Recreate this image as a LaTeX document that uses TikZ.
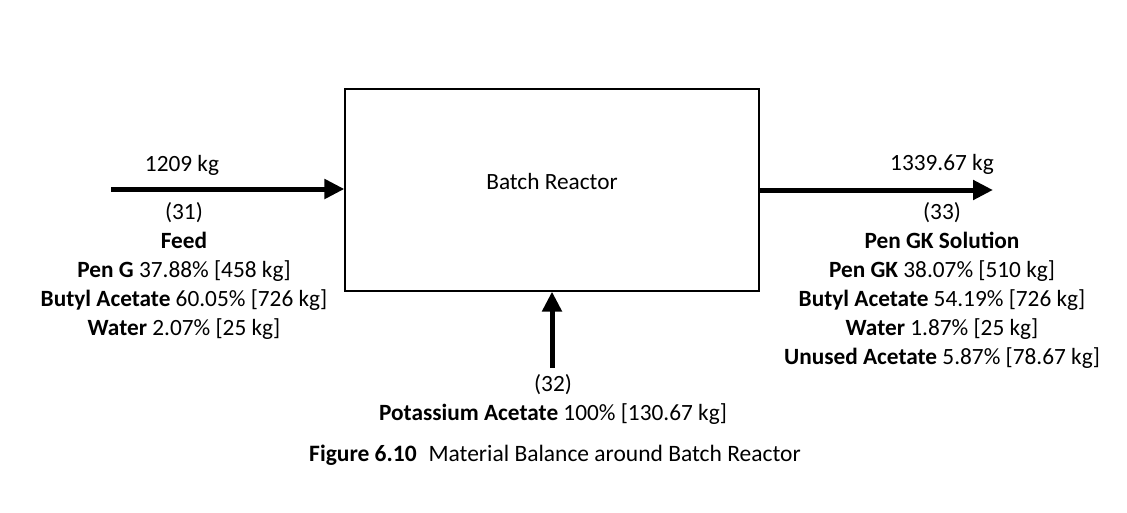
\documentclass[tikz,border=0pt]{standalone}
\usepackage{fontspec}
\setmainfont{Carlito}
\usetikzlibrary{arrows.meta,positioning}

\begin{document}
\begin{tikzpicture}[x=1pt, y=-1pt, node distance=10pt]
        \tikzstyle{block} = [rectangle, draw, line width=1.2pt, minimum width=414pt, minimum height=202pt]
        \tikzstyle{flow} = [draw, line width=5pt, -{Triangle[length=20pt,width=19pt]}]
        \tikzstyle{txt} = [inner sep=0pt, align=center, font=\fontsize{23.3}{29}\selectfont]
        \useasboundingbox (0,0) rectangle (1127,512);

        % Reactor
        \node [block] (reactor) at (552,190) {};
        \node [txt] (rname) at (552,181) {Batch Reactor};

        % Stream ends
        \coordinate (in31) at (111,189);
        \coordinate (out33) at (993,190);
        \coordinate (in32) at (552,368);

        % Streams
        \path [flow] (in31) -- (reactor.west |- in31);
        \path [flow] (reactor.east |- out33) -- (out33);
        \path [flow] (in32) -- (reactor.south);

        % Stream data
        \node [txt] (m31) at (182,165) {1209 kg};
        \node [txt, anchor=north] (s31) at (184,202.5) {(31)\\ \textbf{Feed}\\ \textbf{Pen G} 37.88\% [458 kg]\\ \textbf{Butyl Acetate} 60.05\% [726 kg]\\ \textbf{Water} 2.07\% [25 kg]};
        \node [txt] (m33) at (942,164) {1339.67 kg};
        \node [txt, anchor=north] (s33) at (942,202.5) {(33)\\ \textbf{Pen GK Solution}\\ \textbf{Pen GK} 38.07\% [510 kg]\\ \textbf{Butyl Acetate} 54.19\% [726 kg]\\ \textbf{Water} 1.87\% [25 kg]\\ \textbf{Unused Acetate} 5.87\% [78.67 kg]};
        \node [txt, anchor=north] (s32) at (553,374) {(32)\\ \textbf{Potassium Acetate} 100\% [130.67 kg]};

        % Caption
        \node [txt, font=\fontsize{23.5}{29}\selectfont] (cap) at (555,455) {\textbf{Figure 6.10}\enspace Material Balance around Batch Reactor};
\end{tikzpicture}
\end{document}
